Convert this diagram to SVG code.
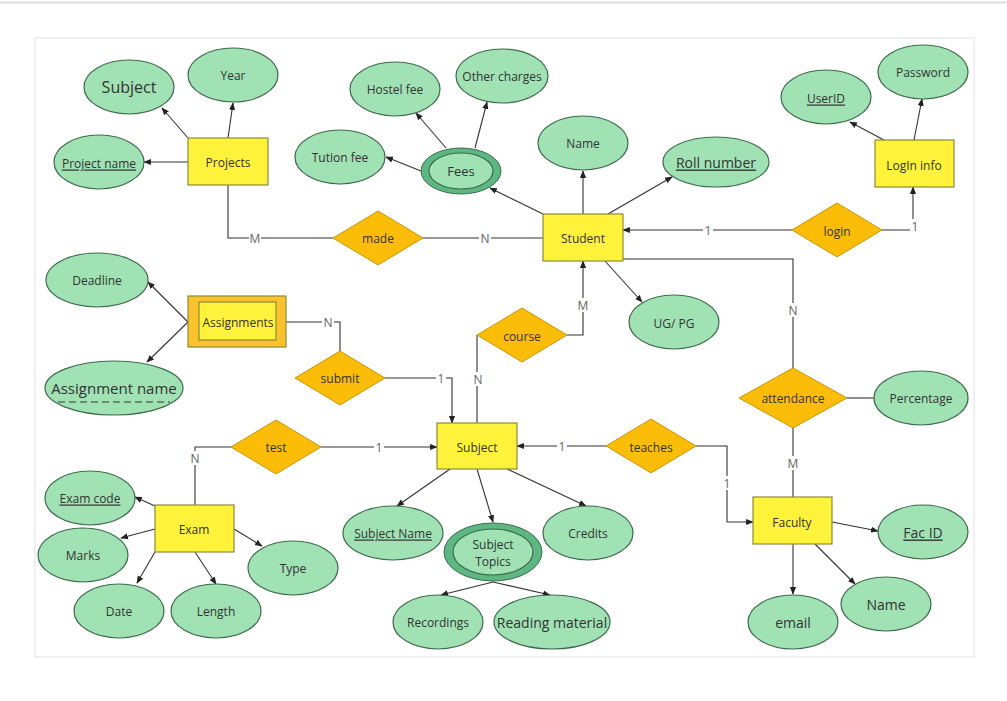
<svg xmlns="http://www.w3.org/2000/svg" width="1007" height="701" viewBox="0 0 1007 701">
<defs>
<marker id="a" viewBox="0 0 10 10" refX="9" refY="5" markerWidth="7" markerHeight="7" orient="auto"><path d="M0,1 L10,5 L0,9 z" fill="#222"/></marker>
<style>
.e{fill:#a0e2b4;stroke:#3d6b4c;stroke-width:1.2}
.r{fill:#fff23a;stroke:#8c8a3a;stroke-width:1.2}
.d{fill:#fbbd08;stroke:#c9950a;stroke-width:1}
.t{font-family:"Open Sans","Noto Sans",sans-serif;font-size:12px;fill:#333;text-anchor:middle;dominant-baseline:central}
.u{text-decoration:underline}
.c path,.c line,.c polyline{fill:none;stroke:#333;stroke-width:1.1}
.l{font-family:"Open Sans","Noto Sans",sans-serif;font-size:12px;fill:#666;text-anchor:middle;dominant-baseline:central}
.lb{fill:#fff}
</style>
</defs>
<rect x="0" y="0" width="1007" height="701" fill="#fff"/>
<line x1="0" y1="2.5" x2="1007" y2="2.5" stroke="#ddd" stroke-width="2"/>
<rect x="35" y="38" width="939" height="619" fill="#fff" stroke="#e2e2e2"/>
<g class="c" id="connectors">
<line x1="188" y1="138" x2="162" y2="108" marker-end="url(#a)"/>
<line x1="228" y1="138" x2="233" y2="103" marker-end="url(#a)"/>
<line x1="188" y1="162" x2="144" y2="162" marker-end="url(#a)"/>
<polyline points="228,185 228,238 333,238"/>
<line x1="423" y1="238" x2="543" y2="238"/>
<line x1="543" y1="214" x2="490" y2="188" marker-end="url(#a)"/>
<line x1="421" y1="171" x2="386" y2="157" marker-end="url(#a)"/>
<line x1="446" y1="148" x2="416" y2="113" marker-end="url(#a)"/>
<line x1="475" y1="148" x2="487" y2="102" marker-end="url(#a)"/>
<line x1="583" y1="214" x2="583" y2="171" marker-end="url(#a)"/>
<line x1="608" y1="214" x2="672" y2="177" marker-end="url(#a)"/>
<line x1="605" y1="261" x2="642" y2="302" marker-end="url(#a)"/>
<line x1="792" y1="230" x2="623" y2="230" marker-end="url(#a)"/>
<polyline points="882,230 913,230 913,187" marker-end="url(#a)"/>
<line x1="884" y1="140" x2="850" y2="122" marker-end="url(#a)"/>
<line x1="914" y1="140" x2="922" y2="99" marker-end="url(#a)"/>
<polyline points="623,259 793,259 793,368"/>
<line x1="793" y1="428" x2="793" y2="497"/>
<line x1="847" y1="398" x2="874" y2="398"/>
<line x1="477" y1="423" x2="477" y2="335"/>
<polyline points="567,335 583,335 583,261" marker-end="url(#a)"/>
<line x1="188" y1="322" x2="148" y2="282" marker-end="url(#a)"/>
<line x1="188" y1="322" x2="147" y2="362" marker-end="url(#a)"/>
<polyline points="286,322 340,322 340,351"/>
<polyline points="385,378 452,378 452,423" marker-end="url(#a)"/>
<line x1="321" y1="447" x2="437" y2="447" marker-end="url(#a)"/>
<polyline points="231,447 195,447 195,505"/>
<line x1="155" y1="506" x2="135" y2="497" marker-end="url(#a)"/>
<line x1="155" y1="529" x2="121" y2="538" marker-end="url(#a)"/>
<line x1="155" y1="552" x2="137" y2="583" marker-end="url(#a)"/>
<line x1="195" y1="552" x2="216" y2="584" marker-end="url(#a)"/>
<line x1="234" y1="529" x2="262" y2="546" marker-end="url(#a)"/>
<line x1="450" y1="469" x2="397" y2="506" marker-end="url(#a)"/>
<line x1="477" y1="469" x2="493" y2="522" marker-end="url(#a)"/>
<line x1="507" y1="469" x2="586" y2="506" marker-end="url(#a)"/>
<line x1="493" y1="582" x2="441" y2="595" marker-end="url(#a)"/>
<line x1="493" y1="582" x2="550" y2="595" marker-end="url(#a)"/>
<line x1="606" y1="446" x2="517" y2="446" marker-end="url(#a)"/>
<polyline points="696,446 727,446 727,522 753,522" marker-end="url(#a)"/>
<line x1="832" y1="522" x2="878" y2="531" marker-end="url(#a)"/>
<line x1="793" y1="544" x2="793" y2="594" marker-end="url(#a)"/>
<line x1="815" y1="544" x2="855" y2="584" marker-end="url(#a)"/>
<g>
<rect class="lb" x="249" y="231" width="12" height="14"/><text class="l" x="255" y="238">M</text>
<rect class="lb" x="479" y="231" width="12" height="14"/><text class="l" x="485" y="238">N</text>
<rect class="lb" x="703" y="223" width="10" height="14"/><text class="l" x="708" y="230">1</text>
<rect class="lb" x="910" y="219" width="10" height="14"/><text class="l" x="915" y="226">1</text>
<rect class="lb" x="787" y="303" width="12" height="14"/><text class="l" x="793" y="310">N</text>
<rect class="lb" x="787" y="456" width="12" height="14"/><text class="l" x="793" y="463">M</text>
<rect class="lb" x="472" y="372" width="12" height="14"/><text class="l" x="478" y="379">N</text>
<rect class="lb" x="577" y="298" width="12" height="14"/><text class="l" x="583" y="305">M</text>
<rect class="lb" x="322" y="315" width="12" height="14"/><text class="l" x="328" y="322">N</text>
<rect class="lb" x="436" y="371" width="10" height="14"/><text class="l" x="441" y="378">1</text>
<rect class="lb" x="374" y="440" width="10" height="14"/><text class="l" x="379" y="447">1</text>
<rect class="lb" x="189" y="451" width="12" height="14"/><text class="l" x="195" y="458">N</text>
<rect class="lb" x="557" y="439" width="10" height="14"/><text class="l" x="562" y="446">1</text>
<rect class="lb" x="722" y="476" width="10" height="14"/><text class="l" x="727" y="483">1</text>
</g>
</g>
<g id="projects"><rect class="r" x="188" y="138" width="80" height="47"/><text class="t" x="228" y="162">Projects</text></g>
<g id="subject-attr"><ellipse class="e" cx="129" cy="87" rx="45" ry="27"/><text class="t" x="129" y="87" style="font-size:16px">Subject</text></g>
<g id="year"><ellipse class="e" cx="233" cy="75" rx="45" ry="27"/><text class="t" x="233" y="75">Year</text></g>
<g id="project-name"><ellipse class="e" cx="99" cy="162" rx="45" ry="27"/><text class="t u" x="99" y="163">Project name</text></g>
<g id="hostel-fee"><ellipse class="e" cx="395" cy="89" rx="45" ry="27"/><text class="t" x="395" y="89">Hostel fee</text></g>
<g id="other-charges"><ellipse class="e" cx="502" cy="76" rx="46" ry="27"/><text class="t" x="502" y="76">Other charges</text></g>
<g id="tution-fee"><ellipse class="e" cx="340" cy="157" rx="45" ry="27"/><text class="t" x="340" y="157">Tution fee</text></g>
<g id="fees"><ellipse cx="461" cy="171" rx="40" ry="23" fill="#5db782" stroke="#3d6b4c"/><ellipse class="e" cx="461" cy="171" rx="32" ry="18"/><text class="t" x="461" y="171" style="font-size:13px">Fees</text></g>
<g id="made"><polygon class="d" points="333,238 378,211 423,238 378,265"/><text class="t" x="378" y="238">made</text></g>
<g id="student"><rect class="r" x="543" y="214" width="80" height="47"/><text class="t" x="583" y="238">Student</text></g>
<g id="name"><ellipse class="e" cx="583" cy="143" rx="45" ry="27"/><text class="t" x="583" y="143">Name</text></g>
<g id="roll-number"><ellipse class="e" cx="716" cy="162" rx="53" ry="25"/><text class="t u" x="716" y="162" style="font-size:14px">Roll number</text></g>
<g id="userid"><ellipse class="e" cx="826" cy="97" rx="45" ry="27"/><text class="t u" x="826" y="98">UserID</text></g>
<g id="password"><ellipse class="e" cx="923" cy="72" rx="45" ry="27"/><text class="t" x="923" y="72">Password</text></g>
<g id="login-info"><rect class="r" x="875" y="140" width="79" height="47"/><text class="t" x="914" y="165">LogIn info</text></g>
<g id="login"><polygon class="d" points="792,230 837,203 882,230 837,257"/><text class="t" x="837" y="231">login</text></g>
<g id="ugpg"><ellipse class="e" cx="674" cy="322" rx="45" ry="27"/><text class="t" x="674" y="323">UG/ PG</text></g>
<g id="course"><polygon class="d" points="477,335 522,308 567,335 522,362"/><text class="t" x="522" y="336">course</text></g>
<g id="deadline"><ellipse class="e" cx="97" cy="280" rx="51" ry="27"/><text class="t" x="97" y="280">Deadline</text></g>
<g id="assignments"><rect x="188" y="296" width="98" height="51" fill="#fcc22c" stroke="#8c8a3a" stroke-width="1.2"/><rect class="r" x="199" y="302" width="77" height="38"/><text class="t" x="238" y="322">Assignments</text></g>
<g id="assignment-name"><ellipse class="e" cx="114" cy="388" rx="69" ry="27"/><text class="t" x="114" y="388" style="font-size:15px">Assignment name</text><line x1="58" y1="402" x2="170" y2="402" stroke="#333" stroke-dasharray="7,4"/></g>
<g id="submit"><polygon class="d" points="295,378 340,351 385,378 340,405"/><text class="t" x="340" y="378">submit</text></g>
<g id="subject"><rect class="r" x="437" y="423" width="80" height="46"/><text class="t" x="477" y="447">Subject</text></g>
<g id="test"><polygon class="d" points="231,447 276,420 321,447 276,474"/><text class="t" x="276" y="447">test</text></g>
<g id="exam"><rect class="r" x="155" y="505" width="79" height="47"/><text class="t" x="194" y="529">Exam</text></g>
<g id="exam-code"><ellipse class="e" cx="90" cy="498" rx="45" ry="27"/><text class="t u" x="90" y="498">Exam code</text></g>
<g id="marks"><ellipse class="e" cx="83" cy="555" rx="45" ry="27"/><text class="t" x="83" y="555">Marks</text></g>
<g id="date"><ellipse class="e" cx="119" cy="611" rx="45" ry="27"/><text class="t" x="119" y="611">Date</text></g>
<g id="length"><ellipse class="e" cx="216" cy="611" rx="45" ry="27"/><text class="t" x="216" y="611">Length</text></g>
<g id="type"><ellipse class="e" cx="293" cy="568" rx="45" ry="27"/><text class="t" x="293" y="568">Type</text></g>
<g id="subject-name"><ellipse class="e" cx="393" cy="533" rx="50" ry="27"/><text class="t u" x="393" y="533">Subject Name</text></g>
<g id="subject-topics"><ellipse cx="493" cy="552" rx="49" ry="29" fill="#5db782" stroke="#3d6b4c"/><ellipse class="e" cx="493" cy="552" rx="40" ry="23"/><text class="t" x="493" y="544">Subject</text><text class="t" x="493" y="561">Topics</text></g>
<g id="credits"><ellipse class="e" cx="588" cy="533" rx="45" ry="27"/><text class="t" x="588" y="533">Credits</text></g>
<g id="recordings"><ellipse class="e" cx="438" cy="622" rx="45" ry="27"/><text class="t" x="438" y="622">Recordings</text></g>
<g id="reading-material"><ellipse class="e" cx="552" cy="622" rx="58" ry="27"/><text class="t" x="552" y="622" style="font-size:14px">Reading material</text></g>
<g id="teaches"><polygon class="d" points="606,446 651,419 696,446 651,473"/><text class="t" x="651" y="447">teaches</text></g>
<g id="attendance"><polygon class="d" points="739,398 793,368 847,398 793,428"/><text class="t" x="793" y="398">attendance</text></g>
<g id="percentage"><ellipse class="e" cx="921" cy="398" rx="47" ry="27"/><text class="t" x="921" y="398">Percentage</text></g>
<g id="faculty"><rect class="r" x="753" y="497" width="79" height="47"/><text class="t" x="792" y="522">Faculty</text></g>
<g id="fac-id"><ellipse class="e" cx="923" cy="532" rx="45" ry="27"/><text class="t u" x="923" y="532" style="font-size:14px">Fac ID</text></g>
<g id="faculty-name"><ellipse class="e" cx="886" cy="604" rx="45" ry="27"/><text class="t" x="886" y="604" style="font-size:14px">Name</text></g>
<g id="email"><ellipse class="e" cx="793" cy="622" rx="45" ry="27"/><text class="t" x="793" y="622" style="font-size:14px">email</text></g>
</svg>
